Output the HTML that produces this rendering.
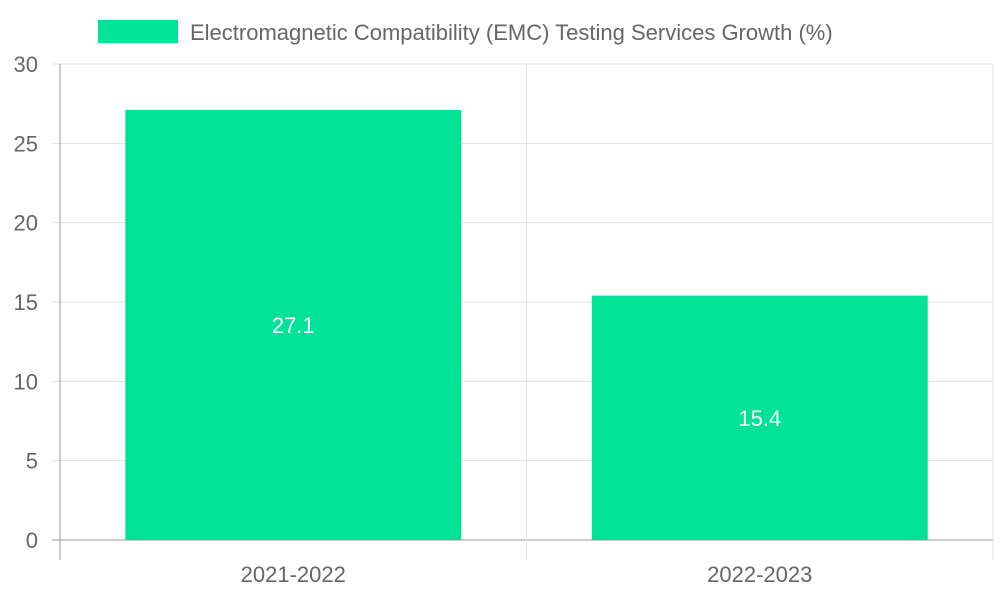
<!DOCTYPE html>
<html><head><meta charset="utf-8"><style>
html,body{margin:0;padding:0;background:#fff;}
svg{display:block;font-family:"Liberation Sans",sans-serif;}
</style></head><body>
<svg id="chart" width="1000" height="600">
<g id="legend">
<rect x="98" y="20" width="80" height="23" fill="#00e396"></rect>
<text x="190" y="40" font-size="22" fill="#666">Electromagnetic Compatibility (EMC) Testing Services Growth (%)</text>
</g>
<g id="grid"></g><g id="bars"></g><g id="axes"></g>
</svg>
<script>
const categories = ["2021-2022", "2022-2023"];
const values = [27.1, 15.4];
const yTicks = [0, 5, 10, 15, 20, 25, 30];
const L=60,R=993,T=64,B=540,yMax=30;
const ns="http://www.w3.org/2000/svg";
const y=v=>B-(v/yMax)*(B-T);
const bw=(R-L)/categories.length;
function mk(tag,attrs,parent,txt){const e=document.createElementNS(ns,tag);for(const k in attrs)e.setAttribute(k,attrs[k]);if(txt!==undefined)e.textContent=txt;document.getElementById(parent).appendChild(e);return e;}
yTicks.forEach(t=>{
 const g=mk('line',{x1:52,x2:R,y1:y(t),y2:y(t),stroke:t===0?'#999':'#e0e0e0','stroke-width':1},'grid');
 
 
 const l=mk('text',{x:38,y:y(t)+8,'text-anchor':'end','font-size':22,fill:'#666'},'axes',t);
 
 
});
for(let i=0;i<=categories.length;i++){
 const x=L+i*bw;
 const g=mk('line',{x1:x,x2:x,y1:T,y2:560,stroke:i===0?'#999':'#e0e0e0','stroke-width':1},'grid');
 
 
}
categories.forEach((c,i)=>{
 const cx=L+bw*(i+0.5),w=bw*0.72;
 const r=mk('rect',{x:cx-w/2,y:y(values[i]),width:w,height:B-y(values[i]),fill:'#00e396'},'bars');
 
 
 const v=mk('text',{x:cx,y:(y(values[i])+B)/2+8,'text-anchor':'middle','font-size':22,fill:'#fff'},'bars',values[i]);
 
 
 const l=mk('text',{x:cx,y:582,'text-anchor':'middle','font-size':22,fill:'#666'},'axes',c);
 
 
});
</script>
</body></html>
